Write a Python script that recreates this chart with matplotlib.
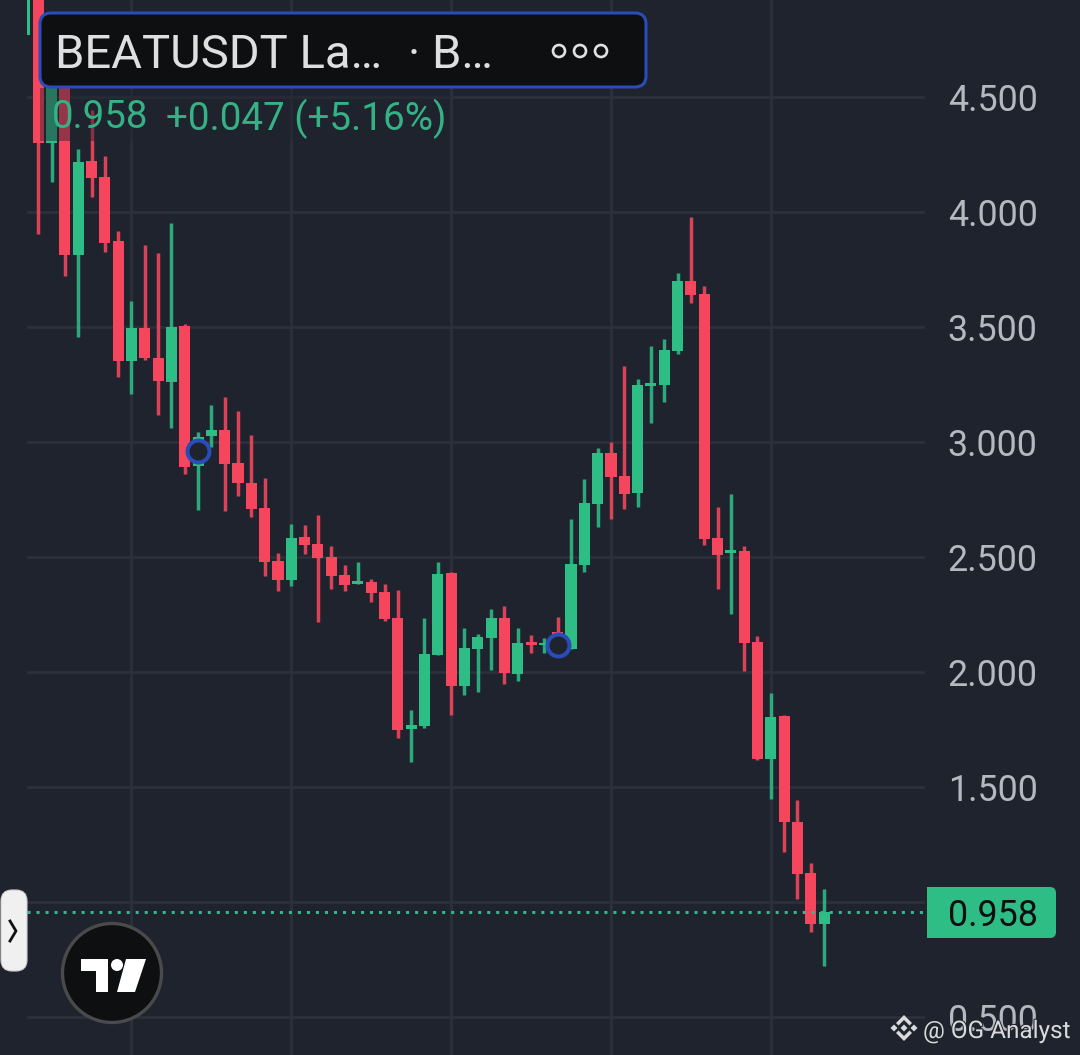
import matplotlib
matplotlib.use('Agg')
import matplotlib.pyplot as plt
import matplotlib.patheffects as pe
from matplotlib.patches import Circle, FancyBboxPatch, Polygon, Rectangle

W, H = 1080, 1055

BG = '#1e232e'
GRID = '#2b303b'
GREEN = '#2ebd85'
RED = '#f6465d'
LABEL = '#b4b8bf'
PANEL = '#0e0f11'
BLUE = '#2a4cb8'

plt.rcParams['font.family'] = ['Roboto', 'DejaVu Sans']

# candles, oldest first
opens = [4.770, 5.009, 4.300, 4.661, 3.813, 4.222, 4.152, 3.874, 3.352, 3.496,
         3.365, 3.261, 3.504, 2.896, 3.026, 3.052, 2.909, 2.822, 2.713, 2.483,
         2.400, 2.587, 2.557, 2.500, 2.422, 2.383, 2.391, 2.348, 2.235, 1.752,
         1.765, 2.074, 2.430, 1.939, 2.100, 2.148, 2.235, 1.991, 2.130, 2.117,
         2.174, 2.100, 2.465, 2.730, 2.952, 2.852, 2.778, 3.243, 3.248, 3.396,
         3.700, 3.643, 2.583, 2.517, 2.526, 2.130, 1.622, 1.809, 1.348, 1.126,
         0.904]
highs = [5.050, 5.050, 4.700, 4.704, 4.274, 4.443, 4.243, 3.917, 3.613, 3.857,
         3.822, 3.952, 3.513, 3.043, 3.161, 3.196, 3.135, 3.030, 2.843, 2.517,
         2.643, 2.639, 2.683, 2.548, 2.465, 2.478, 2.404, 2.383, 2.357, 1.835,
         2.235, 2.478, 2.435, 2.191, 2.165, 2.274, 2.287, 2.191, 2.161, 2.148,
         2.239, 2.665, 2.839, 2.974, 3.000, 3.330, 3.274, 3.417, 3.448, 3.735,
         3.978, 3.678, 2.717, 2.774, 2.548, 2.157, 1.909, 1.813, 1.443, 1.170,
         1.057]
lows = [4.770, 3.904, 4.130, 3.722, 3.457, 4.065, 3.826, 3.283, 3.209, 3.357,
        3.117, 3.061, 2.861, 2.704, 2.978, 2.700, 2.765, 2.674, 2.417, 2.352,
        2.374, 2.513, 2.217, 2.361, 2.352, 2.383, 2.304, 2.222, 1.713, 1.609,
        1.757, 2.074, 1.813, 1.900, 1.913, 2.009, 1.948, 1.961, 2.083, 2.083,
        2.065, 2.100, 2.435, 2.630, 2.665, 2.709, 2.717, 3.083, 3.174, 3.383,
        3.604, 2.552, 2.361, 2.252, 2.004, 1.617, 1.448, 1.217, 1.013, 0.870,
        0.722]
closes = [5.009, 4.300, 4.661, 3.813, 4.217, 4.148, 3.865, 3.352, 3.496, 3.365,
          3.265, 3.500, 2.891, 3.022, 3.052, 2.904, 2.822, 2.709, 2.478, 2.400,
          2.583, 2.552, 2.496, 2.417, 2.378, 2.396, 2.343, 2.230, 1.748, 1.770,
          2.078, 2.426, 1.939, 2.104, 2.152, 2.235, 1.996, 2.126, 2.117, 2.126,
          2.074, 2.470, 2.735, 2.952, 2.848, 2.774, 3.248, 3.257, 3.400, 3.700,
          3.639, 2.578, 2.509, 2.530, 2.126, 1.622, 1.804, 1.348, 1.122, 0.904,
          0.958]

price_ticks = [0.5, 1.0, 1.5, 2.0, 2.5, 3.0, 3.5, 4.0, 4.5]
# 1.000 sits behind the last price tag, so it has no label
price_labels = ['0.500', '', '1.500', '2.000', '2.500', '3.000', '3.500', '4.000', '4.500']
time_ticks = [8, 20, 32, 44, 56]

# blue event markers (candle index, price)
event_idx = [13, 40]
event_price = [2.961, 2.117]

last_price = 0.958

fig = plt.figure(figsize=(W / 100, H / 100), dpi=100, facecolor=BG)

# px -> data: x = 24.9 + 13.32 * i, y = 1132 - 230 * price
PX_LEFT, PX_RIGHT = 27, 925
ax = fig.add_axes([PX_LEFT / W, 0, (PX_RIGHT - PX_LEFT) / W, 1], facecolor=BG)
ax.set_xlim((PX_LEFT - 24.9) / 13.32, (PX_RIGHT - 24.9) / 13.32)
ax.set_ylim((1132 - H) / 230, 1132 / 230)

for spine in ax.spines.values():
    spine.set_visible(False)

ax.set_xticks(time_ticks)
ax.set_xticklabels([])
ax.set_yticks(price_ticks)
ax.set_yticklabels(price_labels)
ax.yaxis.tick_right()
ax.tick_params(axis='both', length=0)
ax.tick_params(axis='y', pad=16.4, labelsize=25.8, labelcolor=LABEL)
ax.grid(True, color=GRID, linewidth=2.0)
ax.set_axisbelow(True)

for i, (o, h, l, c) in enumerate(zip(opens, highs, lows, closes)):
    color = GREEN if c >= o else RED
    ax.vlines(i, l, h, color=color, linewidth=2.5, alpha=0.88, zorder=3)
    ax.bar(i, abs(c - o), bottom=min(o, c), width=0.83, color=color,
           linewidth=0, zorder=4)

ax.scatter(event_idx, event_price, s=250, facecolor=BG, edgecolor=BLUE,
           linewidth=2.9, zorder=5)

ax.axhline(last_price, color='#37b48c', linewidth=2.2,
           linestyle=(0, (1, 1.95)), dash_capstyle='butt', zorder=6)

# ── UI overlay, pixel coordinates ────────────────────────────────────────────
ui = fig.add_axes([0, 0, 1, 1], facecolor='none')
ui.set_xlim(0, W)
ui.set_ylim(H, 0)
ui.axis('off')

# translucent legend strip + symbol panel
ui.add_patch(Rectangle((40, 88), 410, 53, facecolor=BG, alpha=0.45, linewidth=0))
ui.add_patch(FancyBboxPatch((40, 13), 606, 74, boxstyle='round,pad=0,rounding_size=11',
                            facecolor=PANEL, edgecolor=BLUE, linewidth=2.2))
ui.text(55, 50, 'BEATUSDT La…', color='#dfdfdf', fontsize=34, va='center_baseline')
ui.text(408, 50, '· B…', color='#dfdfdf', fontsize=34, va='center_baseline')
for cx in (559, 580, 601):
    ui.add_patch(Circle((cx, 51), 6, facecolor='none', edgecolor='#e2e2e2', linewidth=1.9))

ui.text(52, 114, '0.958', color='#35b285', fontsize=27.6, va='center_baseline')
ui.text(166, 114, '+0.047 (+5.16%)', color='#35b285', fontsize=27.8, va='center_baseline')

# last price tag
ui.add_patch(FancyBboxPatch((927, 887), 129, 51, boxstyle='round,pad=0,rounding_size=6',
                            facecolor=GREEN, linewidth=0))
ui.add_patch(Rectangle((927, 887), 14, 51, facecolor=GREEN, linewidth=0))
ui.text(948, 912, f'{last_price:.3f}', color='#0c0f12', fontsize=25.8, va='center_baseline')

# collapse handle
ui.add_patch(FancyBboxPatch((1, 890), 26, 81, boxstyle='round,pad=0,rounding_size=11',
                            facecolor='#f0f0f0', edgecolor='#d0d0d0', linewidth=0.8))
ui.plot([10, 16, 10], [921, 931, 941], color='#111111', linewidth=2.0)

# TradingView badge
ui.add_patch(Circle((112, 973), 49.5, facecolor=PANEL, edgecolor='#4a4a4c', linewidth=2.4))
ui.add_patch(Polygon([(81, 959), (108, 959), (108, 992), (96, 992), (96, 971), (81, 971)],
                     facecolor='white', linewidth=0))
ui.add_patch(Circle((117, 965), 6, facecolor='white', linewidth=0))
ui.add_patch(Polygon([(126, 959), (146, 959), (135, 992), (117, 992)],
                     facecolor='white', linewidth=0))

# watermark
MARK = '#d9dadc'
cx, cy = 904, 1028
for dx, dy in ((-10, 0), (10, 0), (0, 0)):
    ui.add_patch(Polygon([(cx + dx - 3.5, cy + dy), (cx + dx, cy + dy - 3.5),
                          (cx + dx + 3.5, cy + dy), (cx + dx, cy + dy + 3.5)],
                         facecolor=MARK, linewidth=0))
ui.add_patch(Polygon([(cx - 8, cy - 5), (cx, cy - 13), (cx + 8, cy - 5), (cx + 5.5, cy - 2.5),
                      (cx, cy - 8), (cx - 5.5, cy - 2.5)], facecolor=MARK, linewidth=0))
ui.add_patch(Polygon([(cx - 8, cy + 5), (cx, cy + 13), (cx + 8, cy + 5), (cx + 5.5, cy + 2.5),
                      (cx, cy + 8), (cx - 5.5, cy + 2.5)], facecolor=MARK, linewidth=0))
ui.text(923, 1029, '@ OG Analyst', color=MARK, fontsize=17.5, va='center_baseline',
        path_effects=[pe.withStroke(linewidth=1.5, foreground='#20242c')])

fig.savefig('out.png', dpi=100, facecolor=BG)
